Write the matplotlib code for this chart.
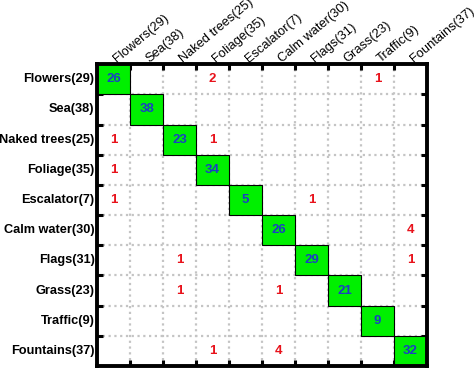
import matplotlib.pyplot as plt
import numpy as np
from matplotlib.patches import Rectangle

classes = ["Flowers(29)", "Sea(38)", "Naked trees(25)", "Foliage(35)", "Escalator(7)",
           "Calm water(30)", "Flags(31)", "Grass(23)", "Traffic(9)", "Fountains(37)"]

# confusion counts, rows = true class, cols = predicted class
correct = [26, 38, 23, 34, 5, 26, 29, 21, 9, 32]
err_rows = [0, 0, 2, 2, 3, 4, 4, 5, 6, 6, 7, 7, 9, 9]
err_cols = [3, 8, 0, 3, 0, 0, 6, 9, 2, 9, 2, 5, 3, 5]
err_vals = [2, 1, 1, 1, 1, 1, 1, 4, 1, 1, 1, 1, 1, 4]

GREEN = "#00f000"
BLUE = "#1a3fc4"
RED = "#e8121b"

n = len(classes)

plt.rcParams['font.family'] = ['Liberation Sans', 'DejaVu Sans']

fig = plt.figure(figsize=(4.74, 3.69), dpi=100)
ax = fig.add_axes([0.205, 0.008, 0.696, 0.818])

ax.set_xlim(0, n)
ax.set_ylim(n, 0)

# green cells on the diagonal only
for i in range(n):
    ax.add_patch(Rectangle((i, i), 1, 1, facecolor=GREEN, edgecolor="black",
                           lw=0.8, zorder=2))

# grid at cell boundaries
ax.set_xticks(np.arange(1, n))
ax.set_yticks(np.arange(1, n))
ax.set_axisbelow(True)
ax.grid(True, color="#c4c4c4", lw=1.6, linestyle=(0, (1, 1.6)))
ax.tick_params(which="both", direction="in", length=4, width=2.2,
               top=True, right=True, labelbottom=False, labelleft=False)
for s in ax.spines.values():
    s.set_linewidth(2.8)
    s.set_zorder(3)

for i, v in enumerate(correct):
    ax.text(i + 0.5, i + 0.5, str(v), ha="center", va="center",
            color=BLUE, fontsize=9.5, fontweight="bold", zorder=4)
for r, c, v in zip(err_rows, err_cols, err_vals):
    ax.text(c + 0.5, r + 0.5, str(v), ha="center", va="center",
            color=RED, fontsize=9.5, fontweight="bold", zorder=4)

# row labels
for i, name in enumerate(classes):
    ax.text(-0.08, i + 0.5, name, ha="right", va="center",
            fontsize=9.2, fontweight="bold")

# column labels, rotated
for i, name in enumerate(classes):
    ax.text(i + 0.6, -0.06, name, ha="left", va="baseline", rotation=40,
            rotation_mode="anchor", fontsize=9.3, clip_on=False)

fig.savefig("out.png", dpi=100, facecolor="white")
